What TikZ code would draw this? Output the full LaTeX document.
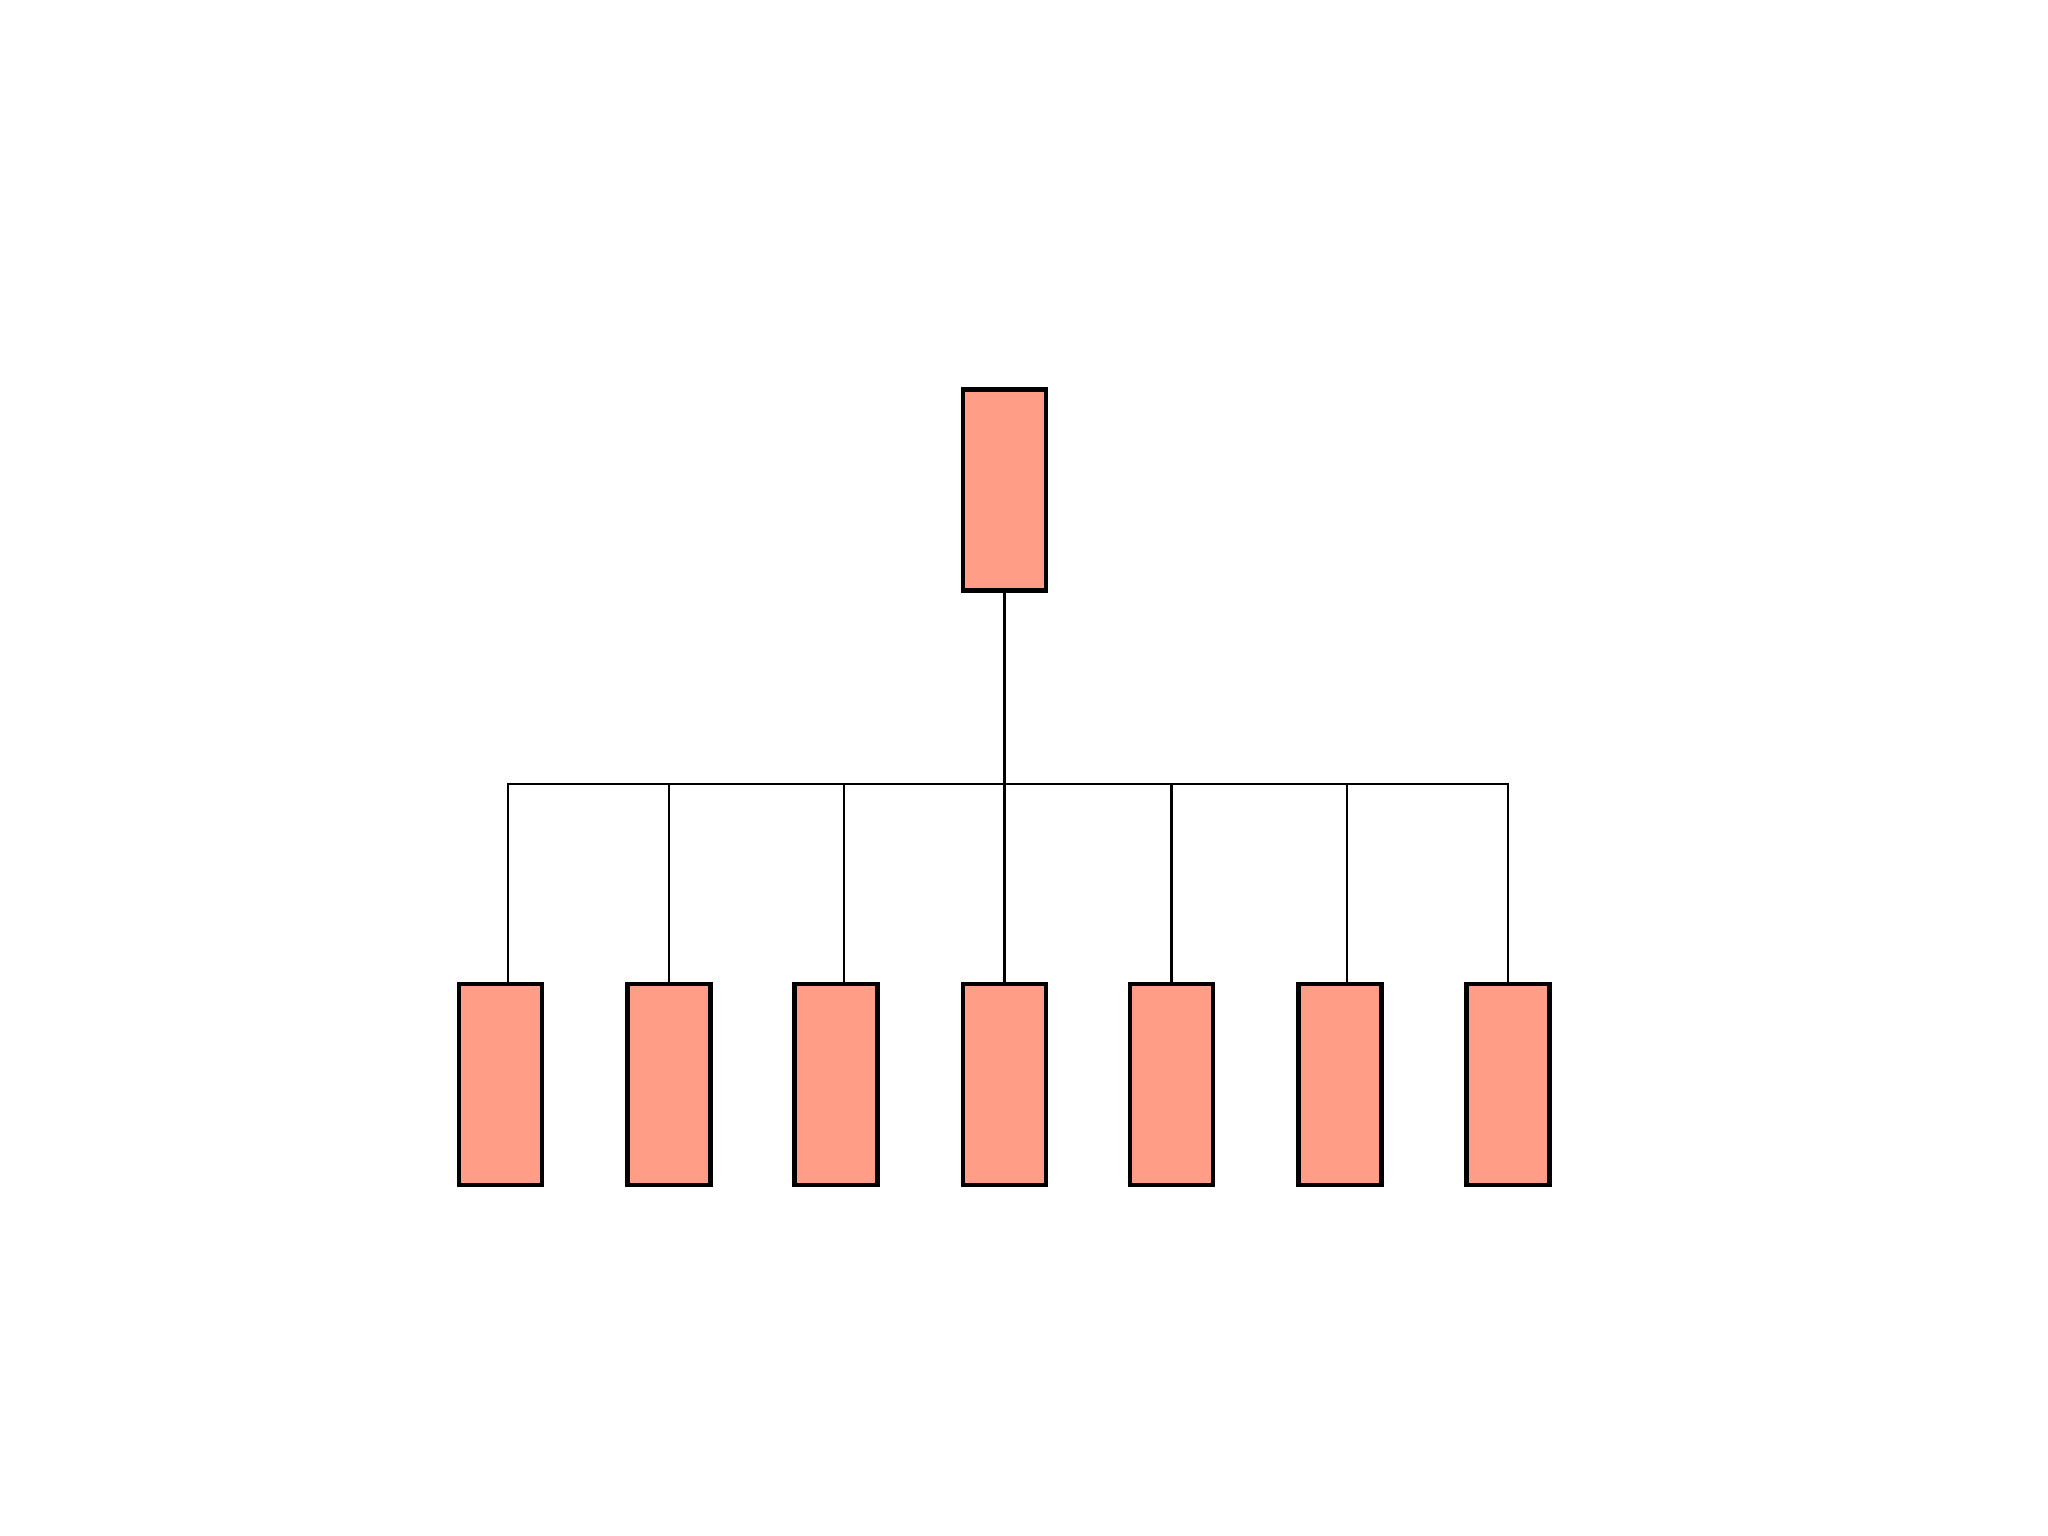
\documentclass[tikz,border=0pt]{standalone}
\usepackage{tikz}
\definecolor{boxsalmon}{RGB}{255,157,134}
\begin{document}
\begin{tikzpicture}[box/.style={draw, fill=boxsalmon, line width=1.15pt, minimum width=0.83cm, minimum height=2.01cm, inner sep=0pt, outer sep=0pt}, wire/.style={line width=0.6pt}, line join=miter]
	\useasboundingbox (0, 0) rectangle (20.48, -15.36);
	% Gốc
	\node[box] (top) at (10.045, -4.90) {};
	\coordinate (bus) at (10.045, -7.84);
	% Hàng dưới
	\node[box] (b1) at (5.005, -10.845) {};
	\node[box] (b2) at (6.69, -10.845) {};
	\node[box] (b3) at (8.36, -10.845) {};
	\node[box] (b4) at (10.045, -10.845) {};
	\node[box] (b5) at (11.715, -10.845) {};
	\node[box] (b6) at (13.40, -10.845) {};
	\node[box] (b7) at (15.08, -10.845) {};
	
	\draw[wire] (top.south) -- (bus);
	\draw[wire] ([xshift=0.075cm]b1.north) |- (bus) -| (b7.north);
	\draw[wire] (b2.north) -- (b2.north |- bus);
	\draw[wire] ([xshift=0.08cm]b3.north) -- ([xshift=0.08cm]b3.north |- bus);
	\draw[wire] (b4.north) -- (bus);
	\draw[wire] (b5.north) -- (b5.north |- bus);
	\draw[wire] ([xshift=0.07cm]b6.north) -- ([xshift=0.07cm]b6.north |- bus);
\end{tikzpicture}
\end{document}
